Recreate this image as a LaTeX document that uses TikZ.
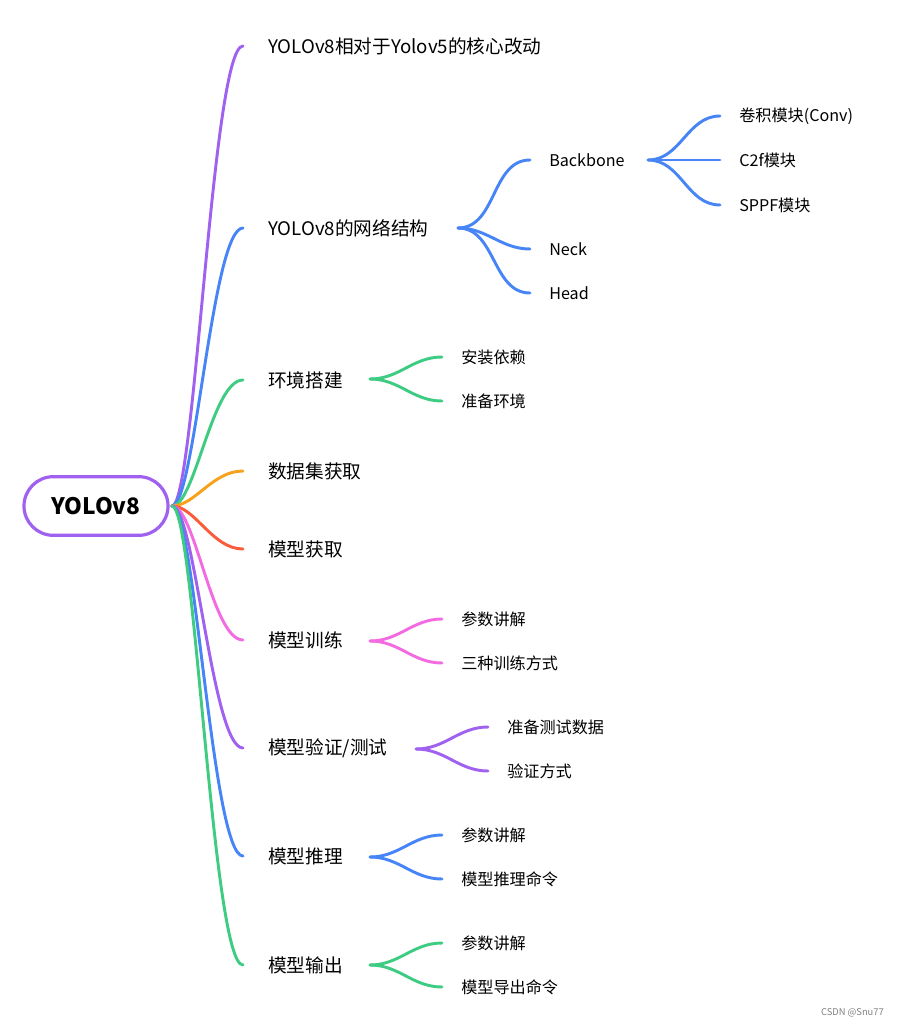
\documentclass[tikz,border=0pt]{standalone}
\usepackage{fontspec}
\setmainfont{Noto Sans CJK SC}
\begin{document}
\begin{tikzpicture}[x=0.75pt,y=-0.75pt,
  br/.style={line width=2.2pt,line cap=round},
  mt/.style={anchor=west,font=\fontsize{14pt}{16pt}\selectfont,inner sep=0pt},
  st/.style={anchor=west,font=\fontsize{12.1pt}{14pt}\selectfont,inner sep=0pt}]
\definecolor{cp}{HTML}{A061F0}\definecolor{cb}{HTML}{4785F7}
\definecolor{cg}{HTML}{3ECB82}\definecolor{co}{HTML}{F7A21B}
\definecolor{cr}{HTML}{FA5B3A}\definecolor{ck}{HTML}{F26BE1}
\useasboundingbox (0,0) rectangle (899,1027);
\node[draw=cp,line width=2.4pt,rounded corners=22pt,
  minimum width=108pt,minimum height=44pt,font=\fontsize{17pt}{20pt}\selectfont\bfseries] (root) at (96,506) {YOLOv8};
\coordinate (r) at (172,506);
\foreach \n/\y/\c/\t in {m1/46/cp/YOLOv8相对于Yolov5的核心改动, m2/228/cb/YOLOv8的网络结构, m3/380/cg/环境搭建,
  m4/471/co/数据集获取, m5/549/cr/模型获取, m6/640/ck/模型训练, m7/748/cp/{模型验证/测试}, m8/856/cb/模型推理, m9/965/cg/模型输出}{
  \coordinate (\n e) at (243,\y);
  \node[mt] (\n) at (268,\y) {\t};
  \draw[br,\c] (r) .. controls (195,506) and (212,\y) .. (\n e);
}
\coordinate (s2) at (458,228);
\foreach \n/\y/\t in {a/160/Backbone, b/249/Neck, c/293/Head}{
  \coordinate (s2\n e) at (530,\y); \node[st] (s2\n) at (549,\y) {\t};
  \draw[br,cb] (s2) to[out=0,in=180] (s2\n e);}
\coordinate (bb) at (648,160);
\foreach \n/\y/\t in {a/116/卷积模块(Conv), b/160/C2f模块, c/205/SPPF模块}{
  \coordinate (bb\n e) at (720,\y); \node[st] (bb\n) at (739,\y) {\t};
  \draw[br,cb] (bb) to[out=0,in=180] (bb\n e);}
\foreach \s/\x/\c/\ya/\ta/\yb/\tb in {s3/370/cg/357/安装依赖/401/准备环境, s6/370/ck/619/参数讲解/663/三种训练方式,
  s7/416/cp/727/准备测试数据/771/验证方式, s8/370/cb/835/参数讲解/879/模型推理命令, s9/370/cg/943/参数讲解/987/模型导出命令}{
  \pgfmathsetmacro\ym{(\ya+\yb)/2}
  \coordinate (\s) at (\x,\ym);
  \coordinate (\s ae) at (\x+72,\ya); \node[st] (\s a) at (\x+91,\ya) {\ta};
  \coordinate (\s be) at (\x+72,\yb); \node[st] (\s b) at (\x+91,\yb) {\tb};
  \draw[br,\c] (\s) to[out=0,in=180] (\s ae);
  \draw[br,\c] (\s) to[out=0,in=180] (\s be);}
\node[anchor=east,font=\fontsize{7pt}{8pt}\selectfont,text=gray,inner sep=0pt] (wm) at (884,1013) {CSDN @Snu77};
\end{tikzpicture}
\end{document}
